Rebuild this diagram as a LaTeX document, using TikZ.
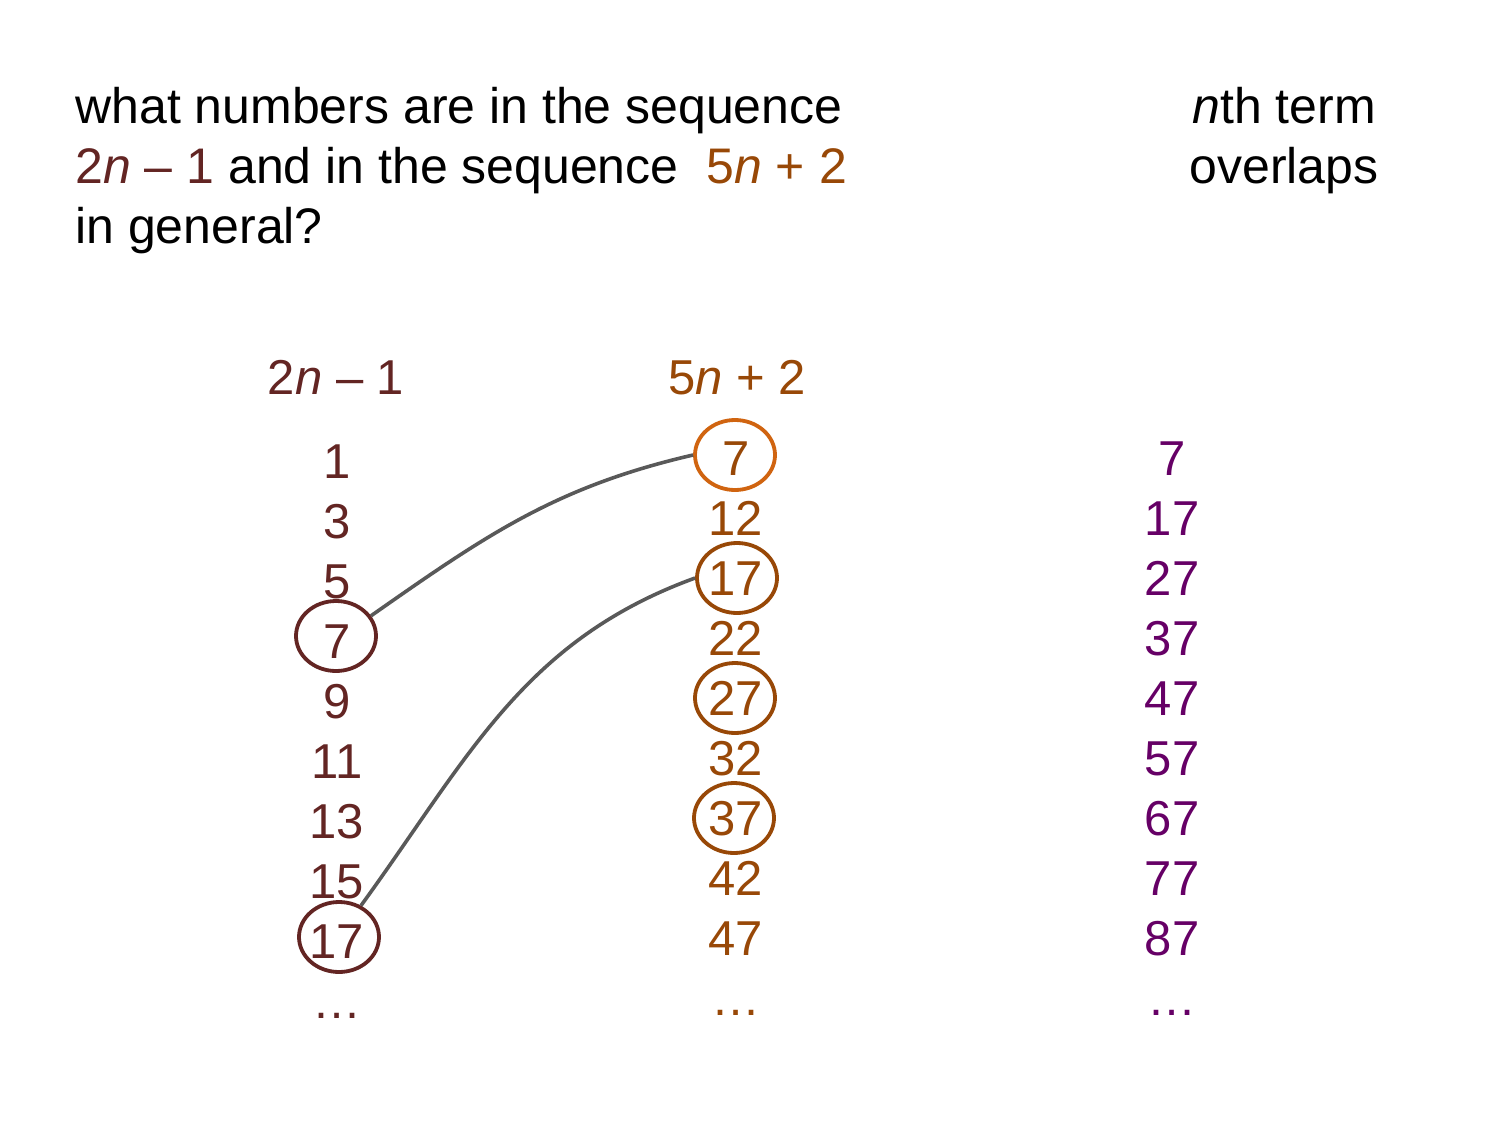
\documentclass[tikz,border=0pt]{standalone}
\usepackage{fontspec}
\setmainfont{Liberation Sans}
\usetikzlibrary{shapes.geometric}
\definecolor{maroon}{HTML}{632523}
\definecolor{obrown}{HTML}{984807}
\definecolor{orng}{HTML}{D06410}
\definecolor{purp}{HTML}{660066}
\definecolor{lgray}{HTML}{595959}
\tikzset{
  num/.style={font=\fontsize{24.5}{30}\selectfont, inner sep=0pt, text height=17.5pt, text depth=0pt, anchor=center},
  ttl/.style={font=\fontsize{25}{30}\selectfont, inner sep=0pt, anchor=base west},
  ring/.style={draw, ellipse, line width=1.9pt, minimum width=40pt, minimum height=35pt, inner sep=0pt},
  link/.style={draw=lgray, line width=1.8pt}
}
\begin{document}
\begin{tikzpicture}[x=0.5pt,y=-0.5pt]
\useasboundingbox (0,0) rectangle (1500,1125);
% title
\node[ttl] (t1) at (75,123) {what numbers are in the sequence};
\node[ttl] (t2) at (75,183) {\textcolor{maroon}{2\textit{n} – 1} and in the sequence \ \textcolor{obrown}{5\textit{n} + 2}};
\node[ttl] (t3) at (75,243) {in general?};
\node[ttl, anchor=base] (h1) at (1284,123) {\textit{n}th term};
\node[ttl, anchor=base] (h2) at (1284,183) {overlaps};
% headers
\node[num, text=maroon] (hl) at (336,377) {2\textit{n} – 1};
\node[num, text=obrown] (hm) at (737,377) {5\textit{n} + 2};
% left column
\foreach \v [count=\i] in {1,3,5,7,9,11,13,15,17,\dots}{
  \node[num, text=maroon] (l\i) at (337,{461+60*(\i-1)}) {\v};
}
% middle column
\foreach \v [count=\i] in {7,12,17,22,27,32,37,42,47,\dots}{
  \node[num, text=obrown] (m\i) at (736,{458+60*(\i-1)}) {\v};
}
% right column
\foreach \v [count=\i] in {7,17,27,37,47,57,67,77,87,\dots}{
  \node[num, text=purp] (r\i) at (1172,{458+60*(\i-1)}) {\v};
}
% rings
\node[ring, draw=maroon] (cl7) at (336,636) {};
\node[ring, draw=maroon] (cl17) at (339,937) {};
\node[ring, draw=orng] (cm7) at (735,455) {};
\node[ring, draw=obrown] (cm17) at (737,578) {};
\node[ring, draw=obrown] (cm27) at (735,698) {};
\node[ring, draw=obrown] (cm37) at (734,818) {};
% links
\draw[link] (cl7.30) to[out=35, in=193] (cm7.west);
\draw[link] (cl17.55) to[out=54, in=200] (cm17.west);
\end{tikzpicture}
\end{document}
